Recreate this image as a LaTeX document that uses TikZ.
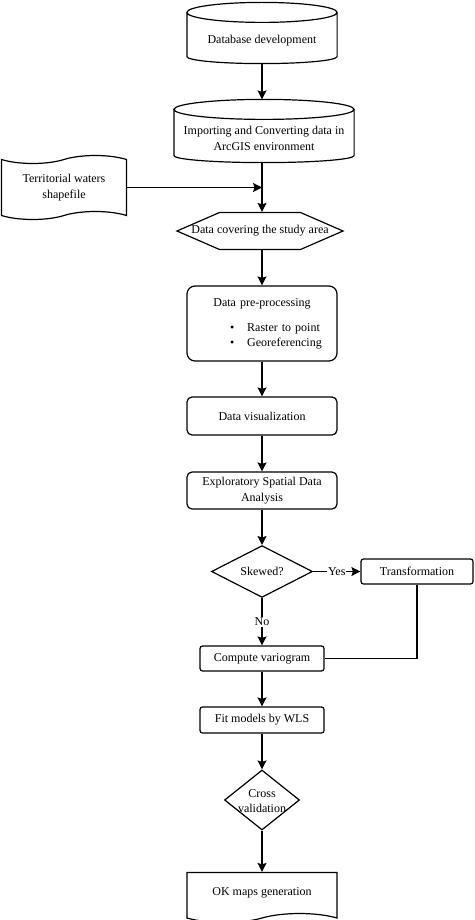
\documentclass[tikz,border=0pt]{standalone}
\usepackage{fontspec}
\setmainfont{Liberation Serif}
\usetikzlibrary{shapes,shapes.geometric,shapes.symbols,arrows.meta,positioning,calc}

\begin{document}
\begin{tikzpicture}[
x=1pt, y=-1pt,
line width=1.2pt,
font=\fontsize{12}{15.5}\selectfont,
every node/.style={draw=black, line width=1.2pt, align=center, inner sep=2pt},
arr/.style={-{Stealth[length=9pt,width=9pt,inset=1.5pt]}, line width=1.2pt},
dbbox/.style={rectangle, draw=none},
procbox/.style={rectangle, rounded corners=5pt},
smallbox/.style={rectangle, rounded corners=2.5pt},
decbox/.style={diamond, inner sep=0pt},
tagtext/.style={draw=none, fill=white, inner sep=1pt}
]
\useasboundingbox (0,0) rectangle (474,920);

% data sources
\node[dbbox, minimum width=149pt, minimum height=45pt] (dbdev) at (262,40.5) {Database development};
\node[dbbox, minimum width=179pt, minimum height=47pt] (import) at (264,138.5)
{Importing and Converting data in\\ArcGIS environment};
\foreach \cyl in {dbdev,import}
  \draw let \p1=($(\cyl.east)-(\cyl.center)$) in
  ($(\cyl.north)+(0,-5)$) ellipse[x radius=\x1, y radius=10pt]
  ($(\cyl.north west)+(0,-5)$) -- ($(\cyl.south west)+(0,-7)$)
  arc[start angle=180, end angle=360, x radius=\x1, y radius=7pt]
  -- ($(\cyl.north east)+(0,-5)$);
\node[tape, tape bend height=8pt, minimum width=125pt, minimum height=64pt] (terr) at (64,187.5)
{Territorial waters\\shapefile};
\node[signal, signal to=east and west, signal pointer angle=47,
minimum width=166pt, minimum height=37pt, inner sep=0pt,
label={[draw=none]center:Data covering the study area}] (study) at (260,231) {};

% processing chain
\node[procbox, rounded corners=8pt, minimum width=150pt, minimum height=75pt,
text width=136pt, align=left] (prep) at (262,323.5)
{\makebox[136pt]{Data pre-processing}\\[10pt]
\hspace*{36pt}\textbullet\hspace{13pt}Raster to point\\[-1pt]
\hspace*{36pt}\textbullet\hspace{13pt}Georeferencing\\[14pt]};
\node[procbox, minimum width=150pt, minimum height=38pt] (visual) at (262,416) {Data visualization};
\node[procbox, minimum width=150pt, minimum height=37pt] (esda) at (262,490.5)
{Exploratory Spatial Data\\Analysis};
\node[decbox, minimum width=101pt, minimum height=49pt] (skew) at (262,571.5) {Skewed?};
\node[smallbox, minimum width=112pt, minimum height=25pt] (trans) at (417,571.5) {Transformation};
\node[smallbox, minimum width=124pt, minimum height=25pt] (vario) at (262,658.5) {Compute variogram};
\node[smallbox, minimum width=124pt, minimum height=26pt] (fitwls) at (262,720) {Fit models by WLS};
\node[decbox, minimum width=75pt, minimum height=60pt,
label={[draw=none, align=center, yshift=-1pt]center:Cross\\validation}] (cross) at (262,800) {};
\node[tape, tape bend top=none, tape bend height=9pt, minimum width=150pt, minimum height=50pt] (okmaps) at (262,893)
{OK maps generation};

% connectors
\draw[arr] (dbdev.south) -- ($(import.north)+(-2,-15)$);
\draw[arr] (dbdev.south |- import.south) -- (dbdev.south |- study.north);
\draw[arr] (terr.east) -- (terr.east -| dbdev.south);
\draw[arr] (dbdev.south |- study.south) -- (prep.north);
\draw[arr] (prep) -- (visual);
\draw[arr] (visual) -- (esda);
\draw[arr] (esda.south) -- (skew.north);
\draw[arr] (skew.east) -- node[tagtext] {Yes} (trans.west);
\draw[arr] (skew.south) -- node[tagtext] {No} (vario.north);
\draw (trans.south) |- (vario.east);
\draw[arr] (vario) -- (fitwls);
\draw[arr] (fitwls.south) -- (cross.north);
\draw[arr] (cross.south) -- (okmaps.north);
\end{tikzpicture}
\end{document}
